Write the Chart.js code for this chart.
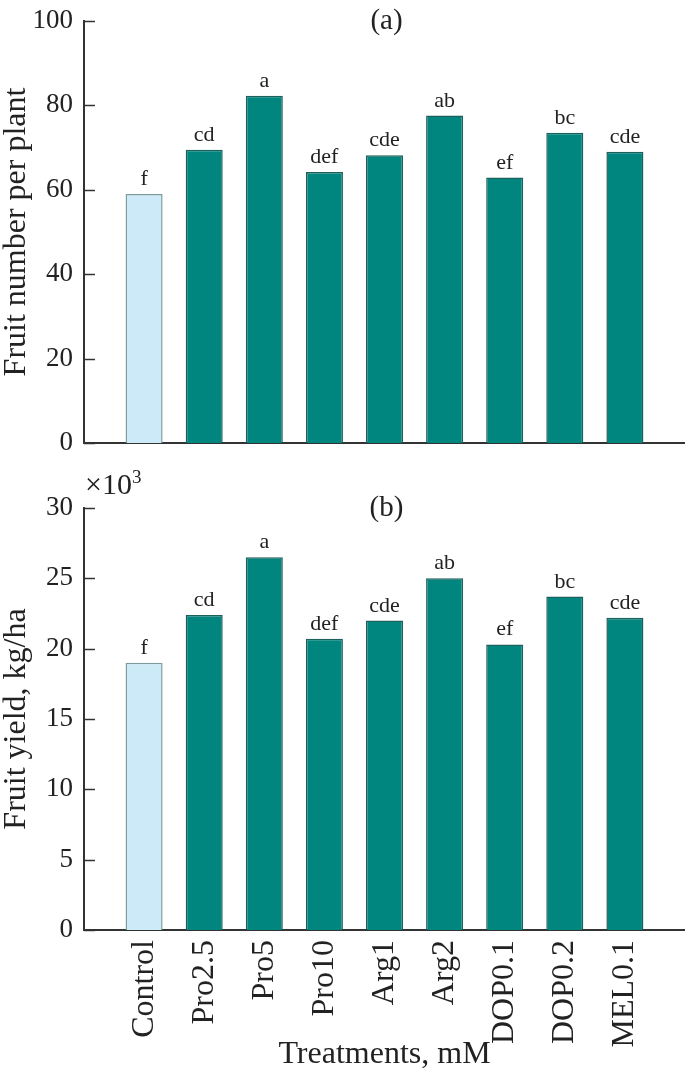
<!DOCTYPE html>
<html>
<head>
<meta charset="utf-8">
<script src="https://cdn.jsdelivr.net/npm/chart.js@4/dist/chart.umd.min.js"></script>
<style>
  body { margin: 0; background: #fff; }
  canvas { display: block; }
</style>
</head>
<body>
<canvas id="grafFrutos" width="685" height="460"></canvas>
<canvas id="grafRendimiento" width="685" height="618"></canvas>
<script>
// datos
const tratamientos = ['Control', 'Pro2.5', 'Pro5', 'Pro10', 'Arg1', 'Arg2', 'DOP0.1', 'DOP0.2', 'MEL0.1'];
const frutosPorPlanta = [59.0, 69.5, 82.3, 64.2, 68.2, 77.6, 62.9, 73.5, 69.0];
const rendimiento = [19.0, 22.4, 26.5, 20.7, 22.0, 25.0, 20.3, 23.7, 22.2]; // x10^3 kg/ha
const letras = ['f', 'cd', 'a', 'def', 'cde', 'ab', 'ef', 'bc', 'cde'];
const ticksFrutos = [0, 20, 40, 60, 80, 100];
const ticksRendimiento = [0, 5, 10, 15, 20, 25, 30];

const serif = '"Liberation Serif", "Times New Roman", serif';
const colores = tratamientos.map((t, i) => i === 0 ? '#cdeaf9' : '#00857f');
const bordes = tratamientos.map((t, i) => i === 0 ? '#7c9c9c' : '#1d5f5b');

// letras sobre las barras + ticks hacia adentro + etiqueta del panel
const extras = {
  id: 'extras',
  afterDraw(chart, args, opts) {
    const ctx = chart.ctx;
    const ys = chart.scales.y;
    const area = chart.chartArea;
    ctx.save();
    ctx.strokeStyle = '#333';
    ctx.lineWidth = 1.5;
    ys.ticks.forEach(t => {
      const py = Math.round(ys.getPixelForValue(t.value)) + 0.5;
      ctx.beginPath();
      ctx.moveTo(area.left, py);
      ctx.lineTo(area.left + 11, py);
      ctx.stroke();
    });
    const meta = chart.getDatasetMeta(0);
    ctx.fillStyle = '#222';
    ctx.font = '22px ' + serif;
    ctx.textAlign = 'center';
    ctx.textBaseline = 'alphabetic';
    meta.data.forEach((bar, i) => {
      ctx.fillText(letras[i], bar.x, bar.y - 9);
    });
    ctx.font = '29px ' + serif;
    ctx.textBaseline = 'middle';
    ctx.fillText(opts.panel, (area.left + area.right) / 2 + 2, area.top);
    if (opts.exponente) {
      ctx.textAlign = 'left';
      ctx.textBaseline = 'alphabetic';
      ctx.font = '30px ' + serif;
      ctx.fillText('\u00d710', area.left + 1, area.top - 14);
      const w = ctx.measureText('\u00d710').width;
      ctx.font = '19px ' + serif;
      ctx.fillText('3', area.left + 1 + w, area.top - 25);
    }
    ctx.restore();
  }
};

function opciones(ticksY, tituloY, conEtiquetas, panel, exponente, padTop, altoX) {
  return {
    responsive: false,
    animation: false,
    devicePixelRatio: 1,
    layout: { padding: { top: padTop, right: 0, left: 0, bottom: 0 } },
    plugins: {
      legend: { display: false },
      tooltip: { enabled: false },
      extras: { panel: panel, exponente: exponente }
    },
    scales: {
      x: {
        type: 'linear',
        min: 0,
        max: 10,
        offset: false,
        grid: { display: false, drawTicks: false },
        border: { display: true, color: '#333', width: 2 },
        ticks: {
          display: conEtiquetas,
          stepSize: 1,
          autoSkip: false,
          minRotation: 90,
          maxRotation: 90,
          padding: 10,
          color: '#222',
          font: { family: serif, size: 32 },
          callback: v => tratamientos[v - 1] || ''
        },
        title: {
          display: conEtiquetas,
          text: 'Treatments, mM',
          color: '#222',
          font: { family: serif, size: 32, lineHeight: 1.1 },
          padding: { top: 0, bottom: 6 }
        },
        afterFit(scale) {
          scale.height = altoX;
          scale.paddingLeft = 0;
          scale.paddingRight = 0;
        }
      },
      y: {
        min: ticksY[0],
        max: ticksY[ticksY.length - 1],
        grid: { display: false, drawTicks: false },
        border: { display: true, color: '#333', width: 2 },
        afterBuildTicks(scale) {
          scale.ticks = ticksY.map(v => ({ value: v }));
        },
        ticks: {
          padding: 11,
          color: '#222',
          font: { family: serif, size: 27 }
        },
        title: {
          display: true,
          text: tituloY,
          color: '#222',
          font: { family: serif, size: 32, lineHeight: 1.05 },
          padding: 0
        },
        afterFit(scale) {
          scale.width = 84;
          scale.paddingTop = 0;
          scale.paddingBottom = 0;
        }
      }
    }
  };
}

function datos(valores) {
  return {
    datasets: [{
      data: valores.map((v, i) => ({ x: i + 1, y: v })),
      backgroundColor: colores,
      borderColor: bordes,
      borderWidth: 1.5,
      barPercentage: 0.77,
      categoryPercentage: 0.8
    }]
  };
}

new Chart(document.getElementById('grafFrutos'), {
  type: 'bar',
  data: datos(frutosPorPlanta),
  options: opciones(ticksFrutos, 'Fruit number per plant', false, '(a)', false, 21, 17),
  plugins: [extras]
});

new Chart(document.getElementById('grafRendimiento'), {
  type: 'bar',
  data: datos(rendimiento),
  options: opciones(ticksRendimiento, 'Fruit yield, kg/ha', true, '(b)', true, 48, 148),
  plugins: [extras]
});
</script>
</body>
</html>
